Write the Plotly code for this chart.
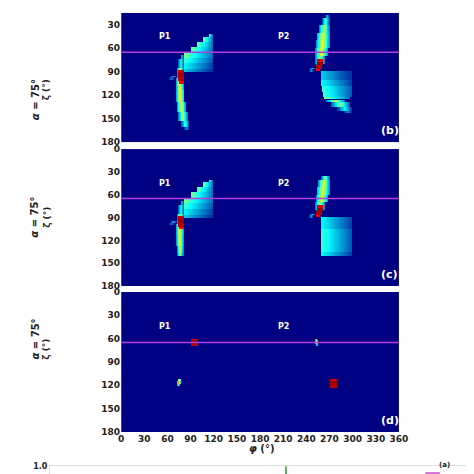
import numpy as np
import plotly.graph_objects as go

W = H = 474
phi_ticks = list(range(0, 361, 30))
zeta_ticks = list(range(0, 181, 30))

# shapes: rows of (zeta, phi_lo, phi_hi, peak); 'ridge' peaks mid-row, 'fadeR' peaks at lo edge, 'flat' uniform
b_p1_arc = [(68, 77, 81, 0.35), (80, 74, 81, 0.45), (90, 72, 81, 0.55), (105, 71, 81, 0.62), (120, 71, 82, 0.62),
            (135, 72, 84, 0.6), (148, 74, 86, 0.55), (158, 78, 88, 0.45), (163, 82, 88, 0.3)]
b_p1_wedge = [(42, 114, 119, 0.45), (48, 106, 119, 0.5), (55, 98, 119, 0.5), (62, 90, 119, 0.5),
              (68, 81, 119, 0.5), (75, 81, 119, 0.45), (82, 81, 119, 0.4), (89, 81, 119, 0.35)]
b_p1_hot = [(88, 74, 82, 0.88), (94, 73, 82, 0.95), (100, 74, 82, 0.9), (104, 75, 81, 0.8)]
b_p1_wisp = [(95, 64, 72, 0.35), (99, 62, 68, 0.3)]
b_p2_arc = [(18, 264, 270, 0.35), (25, 260, 270, 0.45), (35, 256, 270, 0.55), (45, 253, 270, 0.6), (55, 252, 270, 0.6),
            (65, 251, 268, 0.6), (75, 251, 264, 0.55), (84, 252, 260, 0.5)]
b_p2_hot = [(74, 254, 261, 0.85), (79, 253, 261, 0.95), (84, 252, 260, 0.92), (88, 252, 258, 0.8)]
b_p2_wisp = [(85, 244, 252, 0.35), (89, 243, 249, 0.3)]
b_p2_wedge = [(89, 259, 299, 0.35), (96, 259, 299, 0.35), (104, 259, 299, 0.4), (112, 260, 299, 0.45),
              (120, 262, 299, 0.45), (124, 263, 296, 0.5)]
b_p2_arc2 = [(126, 265, 290, 0.55), (132, 272, 296, 0.5), (138, 280, 299, 0.4), (142, 288, 299, 0.3)]

c_p1_arc = [(68, 77, 81, 0.35), (80, 74, 81, 0.45), (90, 72, 81, 0.55), (105, 71, 81, 0.62), (120, 71, 81, 0.6),
            (135, 72, 81, 0.55), (139, 72, 81, 0.5)]
c_p1_wedge = [(40, 114, 119, 0.45), (46, 106, 119, 0.5), (53, 98, 119, 0.5), (60, 90, 119, 0.5),
              (67, 81, 119, 0.5), (75, 81, 119, 0.45), (82, 81, 119, 0.4), (89, 81, 119, 0.35)]
c_p2_arc = [(35, 259, 270, 0.5), (45, 255, 270, 0.6), (55, 253, 270, 0.6), (65, 252, 268, 0.6),
            (75, 251, 264, 0.55), (84, 252, 260, 0.5)]
c_p2_wedge = [(89, 259, 299, 0.4), (100, 259, 299, 0.4), (110, 259, 299, 0.45), (120, 259, 299, 0.45),
              (130, 259, 299, 0.45), (139, 259, 299, 0.4)]

d_sq1 = [(60, 91, 100, 0.85), (64, 91, 100, 0.95), (69, 91, 100, 0.9)]
d_sq2 = [(112, 73, 78, 0.6), (116, 72, 77, 0.7), (120, 72, 76, 0.55)]
d_sq3 = [(60, 251, 254, 0.5), (64, 251, 255, 0.6), (69, 252, 255, 0.55)]
d_sq4 = [(112, 271, 280, 0.88), (117, 271, 280, 0.95), (122, 271, 280, 0.9)]

panel_shapes = [
    [('ridge', b_p1_arc), ('fadeR', b_p1_wedge), ('ridge', b_p1_wisp), ('flat', b_p1_hot),
     ('ridge', b_p2_arc), ('fadeR', b_p2_wedge), ('ridge', b_p2_arc2), ('ridge', b_p2_wisp), ('flat', b_p2_hot)],
    [('ridge', c_p1_arc), ('fadeR', c_p1_wedge), ('ridge', b_p1_wisp), ('flat', b_p1_hot),
     ('ridge', c_p2_arc), ('fadeR', c_p2_wedge), ('ridge', b_p2_wisp), ('flat', b_p2_hot)],
    [('flat', d_sq1), ('ridge', d_sq2), ('ridge', d_sq3), ('flat', d_sq4)],
]

phi_grid = np.arange(0.5, 360, 1.0)
zeta_grid = np.arange(0.5, 180, 1.0)


def build(shapes):
    z = np.zeros((len(zeta_grid), len(phi_grid)))
    for kind, rows in shapes:
        zs = np.array([r[0] for r in rows])
        for iz, zeta in enumerate(zeta_grid):
            if zeta < zs.min() or zeta > zs.max() + 1:
                continue
            k = np.argmin(np.abs(zs - zeta))
            _, lo, hi, pk = rows[k]
            sel = (phi_grid >= lo) & (phi_grid < hi)
            t = (phi_grid[sel] - lo) / max(hi - lo, 1)
            if kind == 'ridge':
                v = pk * (1 - 0.55 * np.abs(2 * t - 1))
            elif kind == 'fadeR':
                v = pk * (1 - 0.5 * t)
            else:
                v = pk * np.ones_like(t)
            z[iz, sel] = np.maximum(z[iz, sel], v)
    return z


def py(p):
    return 1 - p / H

bold = dict(family='DejaVu Sans', size=9, color='#222')
panels = [
    ('(b)', [py(132), 1], [180, 15]),
    ('(c)', [py(279), py(139)], [180, 0]),
    ('(d)', [py(428), py(285)], [180, 0]),
]
fig = go.Figure()
for i, (lab, dom, rng) in enumerate(panels):
    n = '' if i == 0 else str(i + 1)
    fig.add_trace(go.Heatmap(x=phi_grid, y=zeta_grid, z=build(panel_shapes[i]), colorscale='Jet',
                             zmin=0, zmax=1, showscale=False, xaxis='x' + n, yaxis='y' + n))
    fig.add_trace(go.Scatter(x=[0, 360], y=[65, 65], mode='lines', line=dict(color='#b040e0', width=1.5),
                             showlegend=False, xaxis='x' + n, yaxis='y' + n))
    fig.update_layout(**{
        'xaxis' + n: dict(domain=[113 / W, 398 / W], range=[0, 360], tickvals=phi_ticks,
                          ticktext=['<b>%d</b>' % v for v in phi_ticks],
                          showticklabels=(i == 2), tickfont=bold, showgrid=False, zeroline=False,
                          anchor='y' + n, ticks=''),
        'yaxis' + n: dict(domain=dom, range=rng, tickvals=zeta_ticks,
                          ticktext=['<b>%d</b>' % v for v in zeta_ticks], tickfont=bold, showgrid=False,
                          zeroline=False, anchor='x' + n, ticks=''),
    })
    for txt, x, y in [('P1', 57, 45), ('P2', 211, 45)]:
        fig.add_annotation(x=x, y=y, xref='x' + n, yref='y' + n, text='<b>%s</b>' % txt, showarrow=False,
                           font=dict(family='DejaVu Sans', size=8, color='white'))
    fig.add_annotation(x=348, y=165, xref='x' + n, yref='y' + n, text='<b>%s</b>' % lab, showarrow=False,
                       font=dict(family='DejaVu Sans', size=11, color='white'))
    yc = (dom[0] + dom[1]) / 2
    fig.add_annotation(x=17 / W, y=yc, xref='paper', yref='paper', text='<b><i>α</i> = 75°</b>',
                       textangle=-90, showarrow=False, font=dict(family='DejaVu Sans', size=10, color='#222'))
    fig.add_annotation(x=29 / W, y=yc, xref='paper', yref='paper', text='<b>ζ (°)</b>',
                       textangle=-90, showarrow=False, font=dict(family='DejaVu Sans', size=9, color='#222'))

fig.add_annotation(x=257 / W, y=py(453), xref='paper', yref='paper', text='<b><i>φ</i> (°)</b>',
                   showarrow=False, font=dict(family='DejaVu Sans', size=10, color='#222'))

# partially visible bottom panel (a)
spike_x = [0.565, 0.567, 0.569]
spike_y = [0.0, 1.05, 0.0]
fig.add_trace(go.Scatter(x=spike_x, y=spike_y, mode='lines', line=dict(color='#40a040', width=1.5),
                         showlegend=False, xaxis='x4', yaxis='y4'))
fig.update_layout(
    xaxis4=dict(domain=[40 / W, 467 / W], range=[0, 1], showticklabels=False, showgrid=False,
                zeroline=False, anchor='y4', mirror=True, showline=True, linecolor='#ddd'),
    yaxis4=dict(domain=[0, py(463)], range=[0.85, 1.0], tickvals=[1.0], ticktext=['<b>1.0</b>'],
                tickfont=dict(family='DejaVu Sans', size=8, color='#222'), showgrid=False,
                zeroline=False, anchor='x4', showline=True, linecolor='#ddd', mirror=True),
)
fig.add_shape(type='rect', xref='paper', yref='paper', x0=425 / W, x1=440 / W, y0=0, y1=py(469),
              fillcolor='#d070d0', line=dict(width=0))
fig.add_annotation(x=452 / W, y=py(468), xref='paper', yref='paper', text='<b>(a)</b>', showarrow=False,
                   font=dict(family='DejaVu Sans', size=7, color='#222'))

fig.update_layout(width=W, height=H, margin=dict(l=0, r=0, t=0, b=0),
                  paper_bgcolor='white', plot_bgcolor='white', showlegend=False)
fig.write_html('out.html')
